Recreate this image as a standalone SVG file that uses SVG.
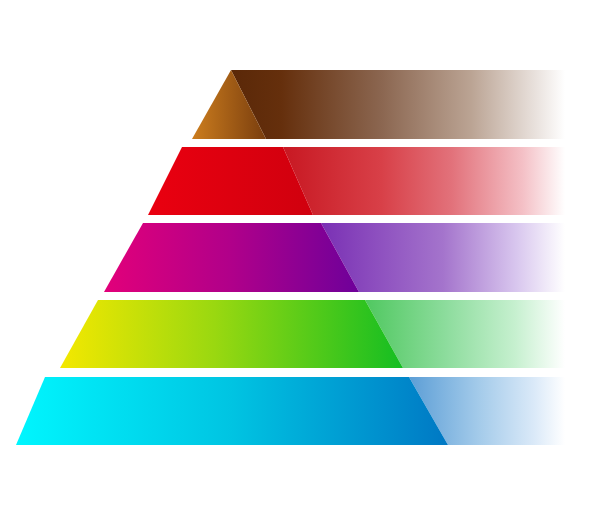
<svg xmlns="http://www.w3.org/2000/svg" width="600" height="516" viewBox="0 0 600 516">
  <defs>
    <linearGradient id="bL" gradientUnits="userSpaceOnUse" x1="192" y1="0" x2="266" y2="0">
      <stop offset="0" stop-color="#cc7d1e"/><stop offset="1" stop-color="#7a3e0e"/>
    </linearGradient>
    <linearGradient id="bR" gradientUnits="userSpaceOnUse" x1="231" y1="0" x2="565" y2="0">
      <stop offset="0" stop-color="#5a2808"/><stop offset="0.15" stop-color="#652f0c"/>
      <stop offset="0.45" stop-color="#8b6650"/><stop offset="0.72" stop-color="#bba494"/>
      <stop offset="0.92" stop-color="#ebe4e0"/><stop offset="1" stop-color="#ffffff"/>
    </linearGradient>
    <linearGradient id="rL" gradientUnits="userSpaceOnUse" x1="148" y1="0" x2="313" y2="0">
      <stop offset="0" stop-color="#ea0010"/><stop offset="1" stop-color="#d0000e"/>
    </linearGradient>
    <linearGradient id="rR" gradientUnits="userSpaceOnUse" x1="283" y1="0" x2="565" y2="0">
      <stop offset="0" stop-color="#c81822"/><stop offset="0.35" stop-color="#d84048"/>
      <stop offset="0.6" stop-color="#e2727b"/><stop offset="0.85" stop-color="#f4c0c6"/>
      <stop offset="1" stop-color="#ffffff"/>
    </linearGradient>
    <linearGradient id="pL" gradientUnits="userSpaceOnUse" x1="104" y1="0" x2="359" y2="0">
      <stop offset="0" stop-color="#e2007a"/><stop offset="0.5" stop-color="#b0008a"/><stop offset="1" stop-color="#6e009a"/>
    </linearGradient>
    <linearGradient id="pR" gradientUnits="userSpaceOnUse" x1="321" y1="0" x2="565" y2="0">
      <stop offset="0" stop-color="#7a30b4"/><stop offset="0.5" stop-color="#a474cc"/>
      <stop offset="0.8" stop-color="#d8c6ee"/><stop offset="1" stop-color="#ffffff"/>
    </linearGradient>
    <linearGradient id="gL" gradientUnits="userSpaceOnUse" x1="60" y1="0" x2="403" y2="0">
      <stop offset="0" stop-color="#f4e800"/><stop offset="0.45" stop-color="#9ad810"/><stop offset="1" stop-color="#14be22"/>
    </linearGradient>
    <linearGradient id="gR" gradientUnits="userSpaceOnUse" x1="365" y1="0" x2="565" y2="0">
      <stop offset="0" stop-color="#50c860"/><stop offset="0.4" stop-color="#8cdc9c"/>
      <stop offset="0.75" stop-color="#c6f0cf"/><stop offset="1" stop-color="#ffffff"/>
    </linearGradient>
    <linearGradient id="cL" gradientUnits="userSpaceOnUse" x1="16" y1="0" x2="448" y2="0">
      <stop offset="0" stop-color="#00f6fe"/><stop offset="0.5" stop-color="#00c4e2"/><stop offset="1" stop-color="#0078c4"/>
    </linearGradient>
    <linearGradient id="cR" gradientUnits="userSpaceOnUse" x1="409" y1="0" x2="565" y2="0">
      <stop offset="0" stop-color="#5c9ed6"/><stop offset="0.45" stop-color="#a4cbea"/>
      <stop offset="0.8" stop-color="#dae9f8"/><stop offset="1" stop-color="#ffffff"/>
    </linearGradient>
  </defs>
  <rect width="600" height="516" fill="#ffffff"/>
  <g id="band-brown">
    <polygon points="231,70 565,70 565,139 266,139" fill="url(#bR)"/>
    <polygon points="231,70 266,139 192,139" fill="url(#bL)"/>
  </g>
  <g id="band-red">
    <polygon points="283,147 565,147 565,215 313,215" fill="url(#rR)"/>
    <polygon points="182,147 283,147 313,215 148,215" fill="url(#rL)"/>
  </g>
  <g id="band-purple">
    <polygon points="321,223 565,223 565,292 359,292" fill="url(#pR)"/>
    <polygon points="143,223 321,223 359,292 104,292" fill="url(#pL)"/>
  </g>
  <g id="band-green">
    <polygon points="365,300 565,300 565,368 403,368" fill="url(#gR)"/>
    <polygon points="98,300 365,300 403,368 60,368" fill="url(#gL)"/>
  </g>
  <g id="band-cyan">
    <polygon points="409,377 565,377 565,445 448,445" fill="url(#cR)"/>
    <polygon points="45,377 409,377 448,445 16,445" fill="url(#cL)"/>
  </g>
  <g id="connectors"/>
</svg>
